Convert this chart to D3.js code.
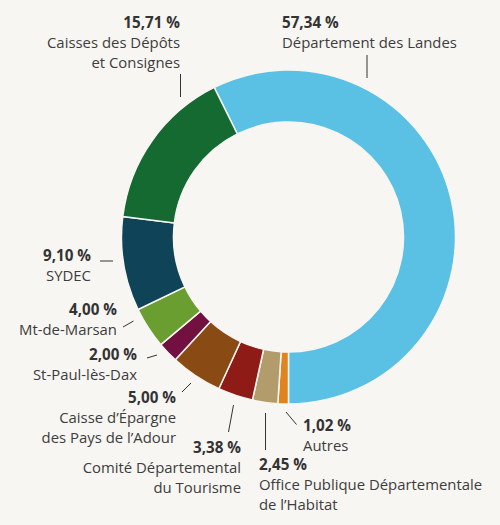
<!DOCTYPE html>
<html>
<head>
  <meta charset="utf-8">
  <title>Donut Chart</title>
  <style>
  body { margin: 0; background: #f8f6f2; }
  .pct {
    font-family: "Open Sans", sans-serif;
    font-weight: bold;
    font-size: 15.2px;
    fill: #333;
  }
  .name {
    font-family: "Open Sans", sans-serif;
    font-size: 14.9px;
    fill: #3d3d3d;
  }
  .tick {
    stroke: #333;
    stroke-width: 1px;
  }
  .slice {
    stroke: #f8f6f2;
    stroke-width: 1.5px;
  }
  </style>
</head>
<body>
  <div id="chart"></div>
  <script src="https://cdn.jsdelivr.net/npm/d3@7"></script>
  <script>
  // data, in drawing order (clockwise from the bottom of the ring)
  var names = [
    "Département des Landes",
    "Autres",
    "Office Publique Départementale\nde l’Habitat",
    "Comité Départemental\ndu Tourisme",
    "Caisse d’Épargne\ndes Pays de l’Adour",
    "St-Paul-lès-Dax",
    "Mt-de-Marsan",
    "SYDEC",
    "Caisses des Dépôts\net Consignes"
  ];
  var shares = [57.34, 1.02, 2.45, 3.38, 5.00, 2.00, 4.00, 9.10, 15.71];
  var colors = ["#5bc1e4", "#df8420", "#b29c6b", "#8e1b15", "#8a4a13",
                "#721040", "#6a9e30", "#0e4358", "#146a31"];

  // label placement (annotation layout only)
  var labelLayout = [
    {anchor: "start", x: 282, y: 28,  tick: [367, 55, 367, 78]},
    {anchor: "start", x: 303, y: 431, tick: [286, 412, 296.5, 424.5]},
    {anchor: "start", x: 259, y: 470, tick: [265.5, 413, 265.5, 450]},
    {anchor: "end",   x: 241, y: 453, tick: [233.5, 405, 228.5, 432]},
    {anchor: "end",   x: 176, y: 403, tick: [182, 392, 191, 383]},
    {anchor: "end",   x: 137, y: 360, tick: [147, 358, 157, 355]},
    {anchor: "end",   x: 117, y: 315, tick: [123, 327, 133.5, 321]},
    {anchor: "end",   x: 91,  y: 261, tick: [100, 261, 113, 261]},
    {anchor: "end",   x: 180, y: 28,  tick: [180.5, 74, 180.5, 97]}
  ];

  var width = 500;
  var height = 525;
  var cx = 288.5, cy = 237;
  var outerR = 167, innerR = 115;
  var lineH = 19.8;

  var fr = d3.formatLocale({decimal: ",", thousands: " ", grouping: [3], currency: ["", " €"]});
  var fmt = fr.format(".2f");

  var svg = d3.select("#chart")
  .append("svg")
  .attr("width", width)
  .attr("height", height);

  svg.append("rect")
  .attr("width", width)
  .attr("height", height)
  .attr("fill", "#f8f6f2");

  var data = names.map(function(n, i) { return {name: n, value: shares[i], color: colors[i]}; });
  var total = d3.sum(shares);

  // first slice ends exactly at the bottom of the ring
  var start = Math.PI - 2 * Math.PI * shares[0] / total;
  var pie = d3.pie()
  .sort(null)
  .value(function(d) { return d.value; })
  .startAngle(start)
  .endAngle(start + 2 * Math.PI);

  var arc = d3.arc()
  .innerRadius(innerR)
  .outerRadius(outerR);

  var g = svg.append("g")
  .attr("transform", "translate(" + cx + "," + cy + ")");

  g.selectAll("path")
  .data(pie(data))
  .enter().append("path")
  .attr("class", "slice")
  .attr("fill", function(d) { return d.data.color; })
  .attr("d", arc);

  //leader ticks
  svg.selectAll("line.tick")
  .data(labelLayout)
  .enter().append("line")
  .attr("class", "tick")
  .attr("x1", function(d) { return d.tick[0]; })
  .attr("y1", function(d) { return d.tick[1]; })
  .attr("x2", function(d) { return d.tick[2]; })
  .attr("y2", function(d) { return d.tick[3]; });

  //labels
  var labels = svg.selectAll("g.label")
  .data(data)
  .enter().append("g")
  .attr("class", "label");

  labels.each(function(d, i) {
    var L = labelLayout[i];
    var t = d3.select(this).append("text")
    .attr("text-anchor", L.anchor)
    .attr("x", L.x)
    .attr("y", L.y);
    t.append("tspan")
    .attr("class", "pct")
    .attr("x", L.x)
    .text(fmt(d.value) + " %");
    d.name.split("\n").forEach(function(line) {
      t.append("tspan")
      .attr("class", "name")
      .attr("x", L.x)
      .attr("dy", lineH)
      .text(line);
    });
  });
  </script>
</body>
</html>
